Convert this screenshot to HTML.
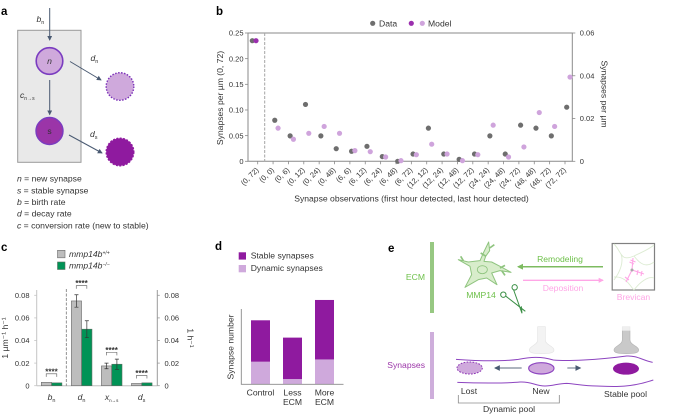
<!DOCTYPE html>
<html>
<head>
<meta charset="utf-8">
<title>Synapse figure</title>
<style>
html,body{margin:0;padding:0;background:#fff;width:685px;height:414px;overflow:hidden}
svg{display:block;font-family:"Liberation Sans",sans-serif}
svg text{fill:#333}
.t{font-size:8.6px}
.tick{font-size:7.5px}
.pl{font-size:11.5px;font-weight:bold;fill:#000}
</style>
</head>
<body>
<svg id="fig" width="685" height="414" viewBox="0 0 685 414" xmlns="http://www.w3.org/2000/svg">
<defs>
<marker id="ah" viewBox="0 0 6 6" refX="5" refY="3" markerWidth="5" markerHeight="5" orient="auto"><path d="M0 0L6 3L0 6Z" fill="#4a5a72"/></marker>
<marker id="ahg" viewBox="0 0 6 6" refX="5" refY="3" markerWidth="4" markerHeight="4" orient="auto"><path d="M0 0L6 3L0 6Z" fill="#7dbb60"/></marker>
<marker id="ahp" viewBox="0 0 6 6" refX="5" refY="3" markerWidth="4" markerHeight="4" orient="auto"><path d="M0 0L6 3L0 6Z" fill="#ffa6e6"/></marker>
</defs>

<!-- panel a -->
<g>
<text class="pl" x="1" y="15">a</text>
<rect x="17.7" y="30.3" width="63.3" height="132" fill="#e9e9e9" stroke="#9a9a9a" stroke-width="1"/>
<line x1="49.7" y1="8" x2="49.7" y2="40" stroke="#4a5a72" stroke-width="1" marker-end="url(#ah)"/>
<line x1="49.7" y1="80" x2="49.7" y2="114.5" stroke="#4a5a72" stroke-width="1" marker-end="url(#ah)"/>
<line x1="70" y1="61.5" x2="101" y2="80" stroke="#4a5a72" stroke-width="1" marker-end="url(#ah)"/>
<line x1="69" y1="135" x2="102" y2="153" stroke="#4a5a72" stroke-width="1" marker-end="url(#ah)"/>
<circle cx="49.5" cy="61" r="13.3" fill="#cfa9dc" stroke="#7a3cc0" stroke-width="1.6"/>
<circle cx="49.5" cy="131" r="13.5" fill="#9b35a8" stroke="#7a3cc0" stroke-width="1.4"/>
<circle cx="120" cy="86.5" r="13.8" fill="#cfa9dc" stroke="#7a30b8" stroke-width="1.4" stroke-dasharray="1.5 1.5"/>
<circle cx="120" cy="152" r="13.8" fill="#8f1a9f" stroke="#8f1a9f" stroke-width="1.4" stroke-dasharray="2 1.4"/>
<text class="t" x="49.5" y="64" text-anchor="middle" font-style="italic">n</text>
<text class="t" x="49.5" y="134" text-anchor="middle">s</text>
<text class="t" x="36.5" y="22" font-style="italic">b<tspan font-size="5.5" dy="2" font-style="normal">n</tspan></text>
<text class="t" x="90.5" y="61" font-style="italic">d<tspan font-size="5.5" dy="2" font-style="normal">n</tspan></text>
<text class="t" x="20" y="98" font-style="italic">c<tspan font-size="5" dy="2" font-style="normal">n→s</tspan></text>
<text class="t" x="90" y="137" font-style="italic">d<tspan font-size="5.5" dy="2" font-style="normal">s</tspan></text>
<text class="t" x="17" y="181.5"><tspan font-style="italic">n</tspan> = new synapse</text>
<text class="t" x="17" y="193.5"><tspan font-style="italic">s</tspan> = stable synapse</text>
<text class="t" x="17" y="205"><tspan font-style="italic">b</tspan> = birth rate</text>
<text class="t" x="17" y="216.5"><tspan font-style="italic">d</tspan> = decay rate</text>
<text class="t" x="17" y="228.5"><tspan font-style="italic">c</tspan> = conversion rate (new to stable)</text>
</g>

<text class="pl" x="216" y="15">b</text>
<g id="chartB"></g>

<text class="pl" x="1" y="251">c</text>
<g id="chartC"></g>

<text class="pl" x="215" y="250">d</text>
<g id="chartD"></g>

<!-- panel e -->
<g>
<text class="pl" x="388" y="252">e</text>
<rect x="430" y="242" width="4" height="71" fill="#97c882"/>
<rect x="430" y="332" width="4" height="67" fill="#ceaedb"/>
<text class="t" x="425" y="280" text-anchor="end" style="fill:#6ec04a">ECM</text>
<text class="t" x="425" y="368" text-anchor="end" style="fill:#9b35a8">Synapses</text>
<g transform="translate(450,238) scale(.3333)">
<path d="M116 12L119 38L107 55L102 70L125 72L150 85L183 103L150 98L125 105L141 140L110 120L85 125L45 148L65 110L60 85L25 65L55 72L90 68L100 45Z" fill="#d8edcb" stroke="#8fc47f" stroke-width="3" stroke-linejoin="round"/>
<path d="M119 30L133 20M108 55L92 45M40 68L32 55M150 90L165 82M155 98L165 112" stroke="#8fc47f" stroke-width="5" fill="none"/>
<ellipse cx="97" cy="95" rx="15" ry="12" fill="#d8edcb" stroke="#8fc47f" stroke-width="2.5"/>
<circle cx="194" cy="148" r="8" fill="#fff" stroke="#3a8f45" stroke-width="3"/>
<circle cx="160" cy="170" r="8" fill="#fff" stroke="#3a8f45" stroke-width="3"/>
<path d="M191 156L216 226M168 175L226 220M216 226L214 205" stroke="#3a8f45" stroke-width="3" fill="none"/>
</g>
<text class="t" x="481" y="298" text-anchor="middle" style="fill:#6ec04a">MMP14</text>
<line x1="603" y1="266.7" x2="518" y2="266.7" stroke="#7dbb60" stroke-width="1.5" marker-end="url(#ahg)"/>
<text class="t" x="560" y="262" text-anchor="middle" style="fill:#6ec04a">Remodeling</text>
<line x1="523" y1="280.3" x2="603" y2="280.3" stroke="#ffa6e6" stroke-width="1.3" marker-end="url(#ahp)"/>
<text class="t" x="563" y="291" text-anchor="middle" style="fill:#ffa6e6">Deposition</text>
<g>
<rect x="612.2" y="243.5" width="42.3" height="46.5" fill="#fff" stroke="#808080" stroke-width="1.2"/>
<path d="M614 244C622 252 620 262 634 256C642 252 648 250 654 245M634 256C640 264 646 268 654 262M614 280C620 272 624 262 621 254M614 277C626 276 630 286 634 290M634 290C640 282 648 276 654 278" fill="none" stroke="#dcebd2" stroke-width=".9"/>
<path d="M632 270L633 258M632 270L626 282M632 270L644 274M630.500 260L635.500 262M629.500 262L634 264M625 277L629 280M638 270L637 275M642 271L641 276" stroke="#ffa6e6" stroke-width="1.1" fill="none"/>
<circle cx="632" cy="270" r="1.5" fill="#a9a9a9"/>
</g>
<text class="t" x="633.5" y="300" text-anchor="middle" style="fill:#ffa6e6">Brevican</text>
<g transform="translate(450,320) scale(.3333)">
<path d="M18 118C100 124 160 124 205 118C240 112 270 108 310 120C350 124 440 120 530 108C560 106 580 122 608 127" fill="none" stroke="#8d45c0" stroke-width="3"/>
<path d="M22 187C90 190 170 190 210 186C245 184 255 198 285 198C310 198 325 190 350 190C380 192 400 198 440 198C490 200 540 204 610 180" fill="none" stroke="#8d45c0" stroke-width="3"/>
<ellipse cx="59" cy="144" rx="38" ry="18" fill="#cfa9dc" stroke="#8d35b5" stroke-width="3" stroke-dasharray="5 4"/>
<ellipse cx="274" cy="145" rx="38" ry="17" fill="#cfa9dc" stroke="#8d45c0" stroke-width="3.5"/>
<ellipse cx="528" cy="146" rx="39" ry="18" fill="#8f1a9f"/>
<line x1="215" y1="144" x2="135" y2="144" stroke="#7c8798" stroke-width="3.5" marker-end="url(#ah)"/>
<line x1="352" y1="144" x2="391" y2="144" stroke="#7c8798" stroke-width="3.5" marker-end="url(#ah)"/>
<path d="M263 20V60C263 75 238 78 238 90C238 98 248 101 275 101C302 101 312 98 312 90C312 78 286 75 286 60V20Z" fill="#f3f3f3" stroke="#e4e4e4" stroke-width="2"/>
<path d="M517 20V60C517 75 492 78 492 90C492 98 502 101 529 101C556 101 566 98 566 90C566 78 540 75 540 60V20Z" fill="#c9c9c9" stroke="#b5b5b5" stroke-width="2"/>
<rect x="515" y="18" width="27" height="14" fill="#fff" opacity=".7"/>
<path d="M25 225V249H328V225" fill="none" stroke="#8c8c8c" stroke-width="2.5"/>
</g>
<text class="t" x="469" y="394" text-anchor="middle">Lost</text>
<text class="t" x="541" y="394" text-anchor="middle">New</text>
<text class="t" x="625.5" y="397" text-anchor="middle">Stable pool</text>
<text class="t" x="509" y="412" text-anchor="middle">Dynamic pool</text>
</g>

<script>
/* chart b data */
const obsCategories = ['(0, 72)','(0, 0)','(0, 6)','(0, 12)','(0, 24)','(0, 48)','(6, 6)','(6, 12)','(6, 24)','(6, 48)','(6, 72)','(12, 12)','(12, 24)','(12, 48)','(12, 72)','(24, 24)','(24, 48)','(24, 72)','(48, 48)','(48, 72)','(72, 72)'];
const dataLeftSeries = [0.235];
const modelLeftSeries = [0.235];
const dataRightSeries = [0.0192,0.0119,0.0266,0.0119,0.0059,0.0047,0.0070,0.0022,0,0.0034,0.0155,0.0034,0.0009,0.0034,0.0119,0.0034,0.0169,0.0155,0.0119,0.0253];
const modelRightSeries = [0.0155,0.0103,0.0131,0.0163,0.0131,0.0050,0.0045,0.0020,0.0003,0.0031,0.0080,0.0034,0.0003,0.0031,0.0169,0.0020,0.0067,0.0228,0.0163,0.0394];
const leftTicksB = [0,0.05,0.10,0.15,0.20,0.25];
const leftTickLabelsB = ['0','0.05','0.10','0.15','0.20','0.25'];
const rightTicksB = [0,0.02,0.04,0.06];
const rightTickLabelsB = ['0','0.02','0.04','0.06'];
/* chart c data */
const rateCategories = ['b','d','x','d'];
const rateSubscripts = ['n','n','n→s','s'];
const wildtypeRates = [0.003,0.075,0.0175,0.002];
const mutantRates = [0.0025,0.050,0.019,0.0025];
const wildtypeErrors = [0,0.0055,0.0025,0];
const mutantErrors = [0,0.0075,0.0045,0];
const bracketHeights = [0.0105,0.0885,0.0295,0.0090];
const ticksC = [0,0.02,0.04,0.06,0.08];
const tickLabelsC = ['0','0.02','0.04','0.06','0.08'];
/* chart d data */
const ecmCategories = [['Control'],['Less','ECM'],['More','ECM']];
const dynamicValues = [30,7,33];
const stableValues = [55,55,79];

const NS='http://www.w3.org/2000/svg';
function mk(tag,attrs,parent,text){
  const e=document.createElementNS(NS,tag);
  for(const k in attrs)e.setAttribute(k,attrs[k]);
  if(text!==undefined)e.textContent=text;
  parent.appendChild(e);
  return e;
}

/* ---- chart b ---- */
(function(){
  const g=document.getElementById('chartB');
  const L=248,R=572.3,T=33,B=161.3;
  const yL=v=>B-v/0.25*(B-T);
  const yR=v=>B-v/0.06*(B-T);
  const xT=i=>257.7+i*15.365;
  let el;
  el=mk('path',{d:`M${L} ${T}H${R}V${B}H${L}Z`,fill:'none',stroke:'#8a8a8a','stroke-width':1},g);
  
  
  el=mk('line',{x1:264.7,x2:264.7,y1:T,y2:B,stroke:'#a5a5a5','stroke-width':1,'stroke-dasharray':'3 1.5'},g);
  
  
  leftTicksB.forEach((v,i)=>{
    mk('line',{x1:L-3,x2:L,y1:yL(v),y2:yL(v),stroke:'#8a8a8a','stroke-width':.8},g);
    el=mk('text',{class:'tick',x:L-4.5,y:yL(v)+2.7,'text-anchor':'end'},g,leftTickLabelsB[i]);
    
    
  });
  rightTicksB.forEach((v,i)=>{
    mk('line',{x1:R,x2:R+3,y1:yR(v),y2:yR(v),stroke:'#8a8a8a','stroke-width':.8},g);
    el=mk('text',{class:'tick',x:R+7.5,y:yR(v)+2.7},g,rightTickLabelsB[i]);
    
    
  });
  obsCategories.forEach((c,i)=>{
    mk('line',{x1:xT(i),x2:xT(i),y1:B,y2:B+3,stroke:'#8a8a8a','stroke-width':.8},g);
    el=mk('text',{class:'tick','text-anchor':'end',transform:`translate(${xT(i)+1.5},170.5) rotate(-45)`},g,c);
    
    
  });
  const dot=(x,y,fill,name)=>{
    const d=mk('circle',{cx:x,cy:y,r:2.6,fill:fill},g);
    
    
  };
  dataLeftSeries.forEach(v=>dot(xT(0)-5.4,yL(v),'#6e6e6e','data-point-left'));
  modelLeftSeries.forEach(v=>dot(xT(0)-1.7,yL(v),'#9b2fae','model-point-left'));
  dataRightSeries.forEach((v,i)=>dot(xT(i+1)+1.7,yR(v),'#6e6e6e','data-point'));
  modelRightSeries.forEach((v,i)=>dot(xT(i+1)+5,yR(v),'#cfa4dc','model-point'));
  el=mk('text',{class:'t',transform:'translate(223,98) rotate(-90)','text-anchor':'middle'},g,'Synapses per µm (0, 72)');
  
  
  el=mk('text',{class:'t',transform:'translate(601.5,94) rotate(90)','text-anchor':'middle'},g,'Synapses per µm');
  
  
  el=mk('text',{class:'t',x:411.5,y:201.5,'text-anchor':'middle'},g,'Synapse observations (first hour detected, last hour detected)');
  
  
  dot(372.7,23.3,'#6e6e6e','legend-data-dot');
  dot(411.3,23.3,'#9b2fae','legend-model-dot-dark');
  dot(422.3,23.3,'#cfa4dc','legend-model-dot-light');
  el=mk('text',{class:'t',x:379,y:26.3},g,'Data');
  
  
  el=mk('text',{class:'t',x:428,y:26.3},g,'Model');
  
  
})();

/* ---- chart c ---- */
(function(){
  const g=document.getElementById('chartC');
  const L=36.7,R=157.3,B=385.7,T80=295.3;
  const y=v=>B-v/0.08*(B-T80);
  const x0=i=>41.3+i*30.05;
  const bw=10.2;
  let el;
  el=mk('line',{x1:L,x2:R,y1:B,y2:B,stroke:'#d0d0d0','stroke-width':1.4},g);
  
  
  el=mk('line',{x1:L,x2:L,y1:290,y2:B,stroke:'#c4c4c4','stroke-width':1},g);
  
  
  el=mk('line',{x1:R,x2:R,y1:290,y2:B,stroke:'#9a9a9a','stroke-width':1},g);
  
  
  el=mk('line',{x1:66.3,x2:66.3,y1:289,y2:B,stroke:'#777','stroke-width':.8,'stroke-dasharray':'3 1.5'},g);
  
  
  ticksC.forEach((v,i)=>{
    mk('line',{x1:L-2.5,x2:L,y1:y(v),y2:y(v),stroke:'#c4c4c4','stroke-width':.8},g);
    mk('line',{x1:R,x2:R+2.5,y1:y(v),y2:y(v),stroke:'#9a9a9a','stroke-width':.8},g);
    el=mk('text',{class:'tick',x:29.5,y:y(v)+2.7,'text-anchor':'end'},g,tickLabelsC[i]);
    
    
    el=mk('text',{class:'tick',x:164.5,y:y(v)+2.7},g,tickLabelsC[i]);
    
    
  });
  rateCategories.forEach((c,i)=>{
    const xa=x0(i),xb=xa+bw+.2,cx=xa+bw;
    let r=mk('rect',{x:xa,y:y(wildtypeRates[i]),width:bw,height:B-y(wildtypeRates[i]),fill:'#bdbdbd',stroke:'#6c6c6c','stroke-width':.6},g);
    
    
    r=mk('rect',{x:xb,y:y(mutantRates[i]),width:bw,height:B-y(mutantRates[i]),fill:'#009356',stroke:'#5a6d60','stroke-width':.6},g);
    
    
    const err=(xc,v,e)=>{
      if(!e)return;
      const p=mk('path',{d:`M${xc-2} ${y(v+e)}H${xc+2}M${xc} ${y(v+e)}V${y(v-e)}M${xc-2} ${y(v-e)}H${xc+2}`,stroke:'#333',fill:'none','stroke-width':.7},g);
      
      
    };
    err(xa+bw/2,wildtypeRates[i],wildtypeErrors[i]);
    err(xb+bw/2,mutantRates[i],mutantErrors[i]);
    const by=y(bracketHeights[i]);
    let b=mk('path',{d:`M${cx-5.3} ${by+3}V${by}H${cx+5.3}V${by+3}`,fill:'none',stroke:'#555','stroke-width':.6},g);
    
    
    let s=mk('text',{x:cx,y:by+.5,'text-anchor':'middle',style:'font-size:8px;font-weight:bold'},g,'****');
    
    
    let t=mk('text',{class:'t',x:cx,y:400,'text-anchor':'middle','font-style':'italic'},g,c);
    
    
    mk('tspan',{dy:2,'font-style':'normal','font-size':rateSubscripts[i].length>1?4.5:5.5},t,rateSubscripts[i]);
  });
  el=mk('text',{class:'t',transform:'translate(8,338) rotate(-90)','text-anchor':'middle'},g,'1 µm⁻¹ h⁻¹');
  
  
  el=mk('text',{class:'t',transform:'translate(187.5,338) rotate(90)','text-anchor':'middle'},g,'1 h⁻¹');
  
  
  el=mk('rect',{x:57.5,y:250.3,width:7.5,height:7.5,fill:'#bdbdbd',stroke:'#6c6c6c','stroke-width':.6},g);
  
  
  el=mk('rect',{x:57.5,y:262,width:7.5,height:7.5,fill:'#009356',stroke:'#5a6d60','stroke-width':.6},g);
  
  
  el=mk('text',{class:'t',x:69,y:257,'font-style':'italic'},g,'mmp14b');
  
  
  mk('tspan',{dy:-2.5,'font-size':5},el,'+/+');
  el=mk('text',{class:'t',x:69,y:268.5,'font-style':'italic'},g,'mmp14b');
  
  
  mk('tspan',{dy:-2.5,'font-size':5},el,'−/−');
})();

/* ---- chart d ---- */
(function(){
  const g=document.getElementById('chartD');
  const L=241.3,R=343.5,T=309,B=384.3;
  const y=v=>B-v/100*(B-T);
  const x=i=>251+i*32;
  const bw=19;
  let el;
  ecmCategories.forEach((c,i)=>{
    const d=dynamicValues[i],s=stableValues[i];
    let r=mk('rect',{x:x(i),y:y(d),width:bw,height:B-y(d),fill:'#cfa9dc'},g);
    
    
    r=mk('rect',{x:x(i),y:y(d+s),width:bw,height:y(d)-y(d+s),fill:'#8f1a9f'},g);
    
    
    c.forEach((line,k)=>{
      const t=mk('text',{class:'t',x:x(i)+bw/2,y:395.5+k*9.5,'text-anchor':'middle'},g,line);
      
      
    });
  });
  el=mk('path',{d:`M${L} ${T}V${B}H${R}`,fill:'none',stroke:'#8a8a8a','stroke-width':.9},g);
  
  
  el=mk('text',{class:'t',transform:'translate(233.5,347) rotate(-90)','text-anchor':'middle'},g,'Synapse number');
  
  
  el=mk('rect',{x:238.7,y:252.3,width:7.3,height:7.3,fill:'#8f1a9f'},g);
  
  
  el=mk('rect',{x:238.7,y:265,width:7.3,height:7.3,fill:'#cfa9dc'},g);
  
  
  el=mk('text',{class:'t',x:250.7,y:258.5},g,'Stable synapses');
  
  
  el=mk('text',{class:'t',x:250.7,y:271},g,'Dynamic synapses');
  
  
})();
</script>
</svg>
</body>
</html>
